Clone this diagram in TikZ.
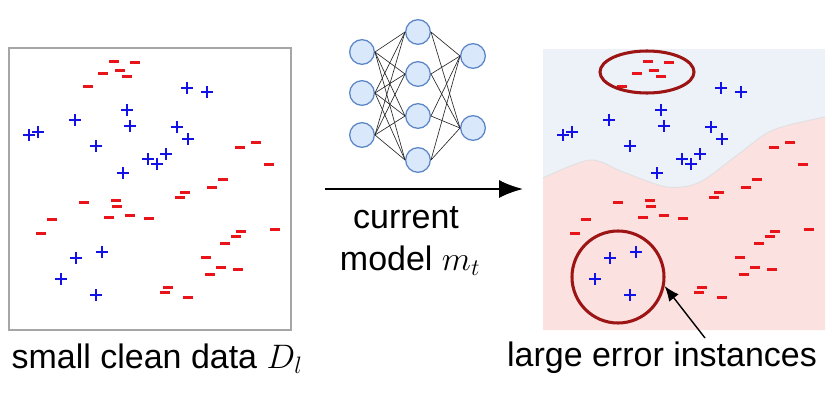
\RequirePackage{fix-cm}
\documentclass[tikz,border=0pt]{standalone}
\usepackage{amsmath}
\usepackage{fontspec}
\setmainfont{Liberation Sans}
\usetikzlibrary{arrows.meta,positioning,shapes.geometric}
\definecolor{PtBlue}{HTML}{1212E8}
\definecolor{PtRed}{HTML}{E8141A}
\definecolor{RegBlue}{HTML}{EDF2F9}
\definecolor{RegRed}{HTML}{FCE1E1}
\definecolor{RingRed}{HTML}{9C1414}
\definecolor{NnFill}{HTML}{DAE8FC}
\definecolor{NnEdge}{HTML}{5A86C8}
\definecolor{BoxGray}{HTML}{A6A6A6}

% toy data, same in both panels
\newcommand{\plusdata}{187/88, 207/92, 127/110, 75/120, 130/126, 177/127, 29/135, 38/132, 188/139, 96/146, 166/154, 148/159, 157/164, 123/173, 76/258, 102/252, 61/279, 96/295}
\newcommand{\minusdata}{114/62, 135/63, 103/74, 120/71, 127/77, 88/87, 240/147, 256/142, 269/164, 223/179, 212/187, 185/192, 180/197, 84/202, 116/200, 117/206, 52/219, 109/217, 130/215, 149/218, 41/233, 275/229, 241/231, 236/236, 225/243, 206/257, 221/267, 238/269, 210/274, 168/287, 165/292, 188/297}

\tikzset{
  neuron/.style={circle, draw=NnEdge, fill=NnFill, line width=1.1pt, minimum size=0.74cm, inner sep=0pt},
  nnlink/.style={black!85, line width=0.55pt},
  plusmark/.style={PtBlue, line width=1.6pt},
  lbl/.style={font=\fontsize{29}{36}\selectfont, inner sep=0pt, anchor=base},
  ring/.style={draw=RingRed, line width=2.6pt, inner sep=0pt},
}

\begin{document}
\begin{tikzpicture}[x=0.03cm, y=-0.03cm]
\useasboundingbox (0,0) rectangle (835,394);

% LEFT panel: clean data
\draw[BoxGray, line width=0.9pt] (9,48) rectangle (291,330);
\foreach \x/\y in \plusdata {
  \draw[plusmark] (\x-6,\y) -- (\x+6,\y) (\x,\y-6) -- (\x,\y+6);
}
\foreach \x/\y in \minusdata {
  \fill[PtRed] (\x-5,\y-1.5) rectangle (\x+5,\y+1.5);
}
\node[lbl] (cleanlbl) at (157,368) {small clean data $D_l$};

% network
\foreach \y [count=\i] in {52,93,135} \node[neuron] (in\i) at (362,\y) {};
\foreach \y [count=\i] in {32,74,116,160} \node[neuron] (hid\i) at (418,\y) {};
\foreach \y [count=\i] in {56,128} \node[neuron] (out\i) at (473,\y) {};
\foreach \i in {1,2,3} \foreach \j in {1,...,4} \draw[nnlink] (in\i.east) -- (hid\j.west);
\foreach \j in {1,...,4} \foreach \k in {1,2} \draw[nnlink] (hid\j.east) -- (out\k.west);

% main arrow
\coordinate (arrS) at (325,189);
\coordinate (arrE) at (523,189);
\draw[-{Latex[length=0.72cm,width=0.54cm]}, line width=1.6pt] (arrS) -- (arrE);
\node[lbl] (curlbl) at (406,228) {current};
\node[lbl] (modlbl) at (410,270) {model $m_t$};

% RIGHT panel: predictions of the model
\begin{scope}[shift={(534,0)}]
\fill[RegBlue] (9,49) rectangle (291,330);
\fill[RegRed] plot[smooth] coordinates {(9,178) (56,160) (89,172) (133,187) (166,182) (206,153) (239,130) (291,117)}
  -- (291,330) -- (9,330) -- cycle;
\draw[black!12, line width=0.8pt] plot[smooth] coordinates {(9,178) (56,160) (89,172) (133,187) (166,182) (206,153) (239,130) (291,117)};
\foreach \x/\y in \plusdata {
  \draw[plusmark] (\x-6,\y) -- (\x+6,\y) (\x,\y-6) -- (\x,\y+6);
}
\foreach \x/\y in \minusdata {
  \fill[PtRed] (\x-5,\y-1.5) rectangle (\x+5,\y+1.5);
}
\node[ring, ellipse, minimum width=2.82cm, minimum height=1.26cm] (negring) at (113,72) {};
\node[ring, circle, minimum size=2.76cm] (posring) at (84,277) {};
\node[lbl] (errlbl) at (128,366) {large error instances};
\coordinate (errtail) at (171,338);
\draw[-{Latex[length=0.45cm,width=0.36cm]}, line width=1.2pt] (errtail) -- (posring.-11);
\end{scope}
\end{tikzpicture}
\end{document}
